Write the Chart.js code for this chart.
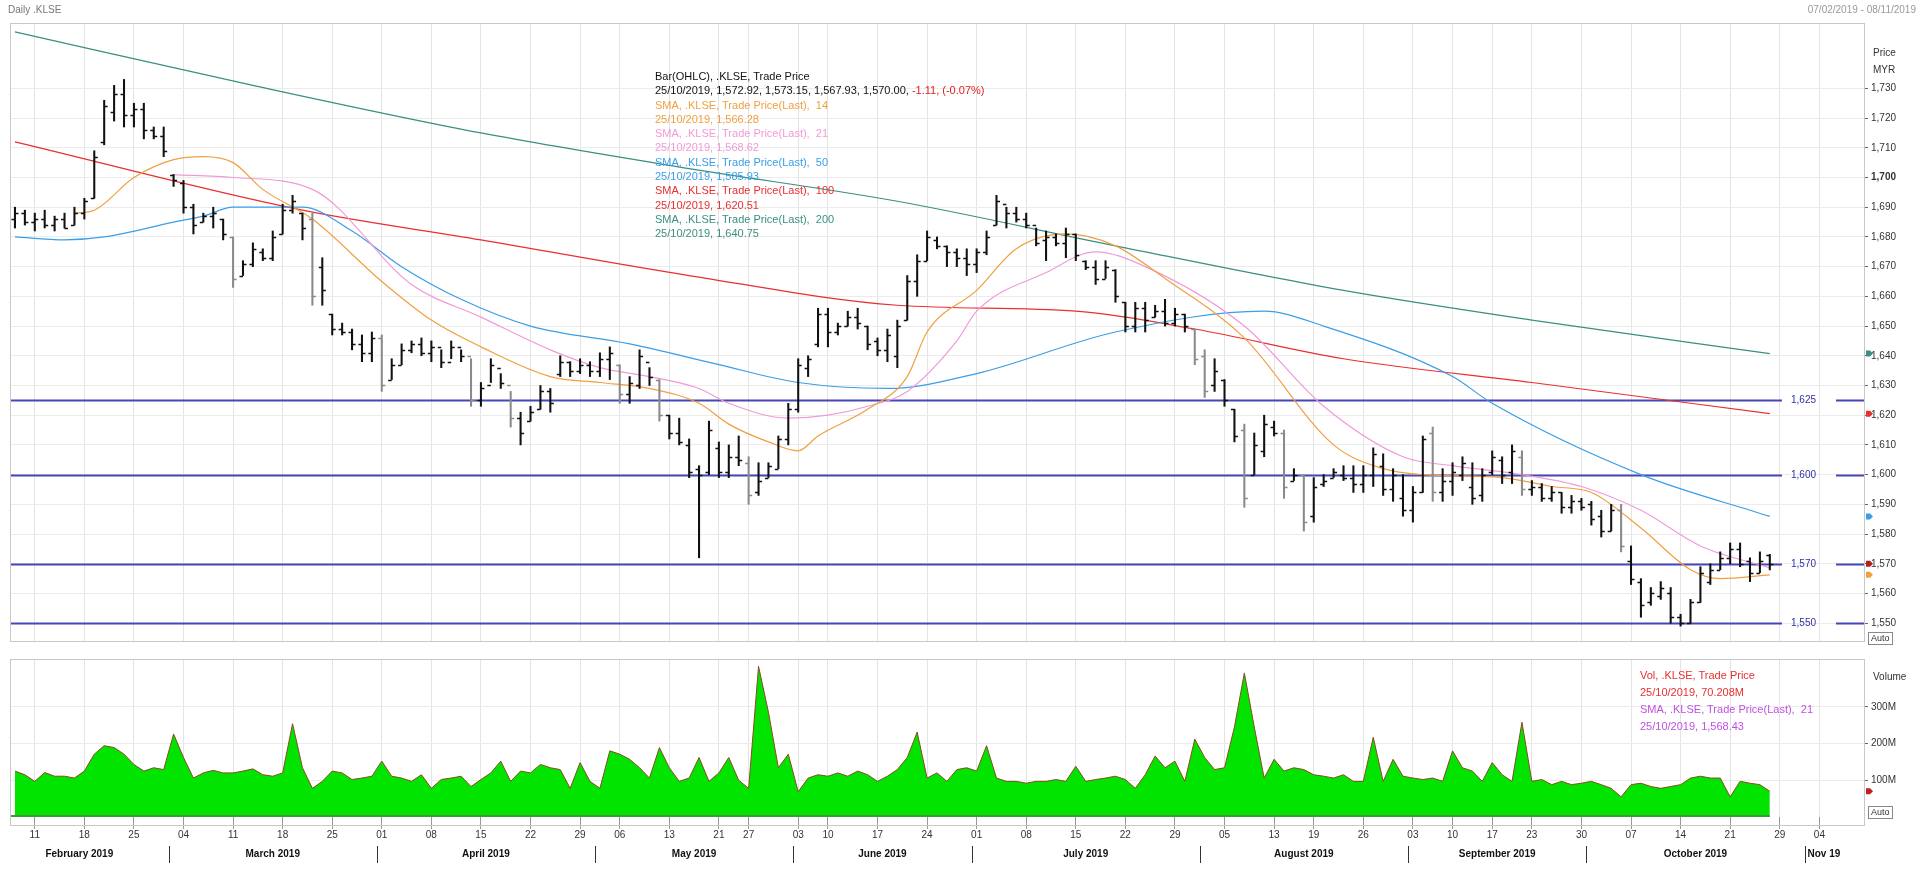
<!DOCTYPE html>
<html><head><meta charset="utf-8">
<script src="https://cdn.jsdelivr.net/npm/chart.js@4"></script>
<style>
body{margin:0;background:#fff;width:1920px;height:883px;overflow:hidden;position:relative;font-family:"Liberation Sans",Arial,sans-serif}
canvas{position:absolute;left:0;z-index:1}
.t{position:absolute;font-size:11px;line-height:14.3px;white-space:nowrap;z-index:2}
</style></head><body>
<canvas id="cp" width="1920" height="650" style="top:0"></canvas>
<canvas id="cv" width="1920" height="233" style="top:650px"></canvas>
<div class="t" style="left:8px;top:3px;color:#777;font-size:10px">Daily .KLSE</div>
<div class="t" style="right:4px;top:3px;color:#999;font-size:10px">07/02/2019 - 08/11/2019</div>
<div class="t" style="left:1873px;top:44px;color:#333;font-size:10px;line-height:17px">Price<br>MYR</div>
<div class="t" style="left:1873px;top:670px;color:#333;font-size:10px">Volume</div>
<div class="t" style="left:1868px;top:632px;color:#333;font-size:9px;border:1px solid #888;padding:0 2px;line-height:11px;background:#fff">Auto</div>
<div class="t" style="left:1868px;top:806px;color:#333;font-size:9px;border:1px solid #888;padding:0 2px;line-height:11px;background:#fff">Auto</div>
<div class="t" style="left:655px;top:69px">
<div style="color:#111">Bar(OHLC), .KLSE, Trade Price</div>
<div style="color:#111">25/10/2019, 1,572.92, 1,573.15, 1,567.93, 1,570.00, <span style="color:#e02020">-1.11, (-0.07%)</span></div>
<div style="color:#f0a040">SMA, .KLSE, Trade Price(Last),&nbsp; 14</div>
<div style="color:#f0a040">25/10/2019, 1,566.28</div>
<div style="color:#f09ad8">SMA, .KLSE, Trade Price(Last),&nbsp; 21</div>
<div style="color:#f09ad8">25/10/2019, 1,568.62</div>
<div style="color:#3a9ee8">SMA, .KLSE, Trade Price(Last),&nbsp; 50</div>
<div style="color:#3a9ee8">25/10/2019, 1,585.93</div>
<div style="color:#e83030">SMA, .KLSE, Trade Price(Last),&nbsp; 100</div>
<div style="color:#e83030">25/10/2019, 1,620.51</div>
<div style="color:#3a8f80">SMA, .KLSE, Trade Price(Last),&nbsp; 200</div>
<div style="color:#3a8f80">25/10/2019, 1,640.75</div>
</div>
<div class="t" style="left:1640px;top:667px;line-height:17px">
<div style="color:#e83030">Vol, .KLSE, Trade Price</div>
<div style="color:#e83030">25/10/2019, 70.208M</div>
<div style="color:#c050e0">SMA, .KLSE, Trade Price(Last),&nbsp; 21</div>
<div style="color:#c050e0">25/10/2019, 1,568.43</div>
</div>
<script>
const holidays=['2019-05-01','2019-05-20','2019-05-22','2019-06-05','2019-06-06','2019-08-12','2019-09-02','2019-09-09','2019-09-16','2019-10-28'];
const firstDay='2019-02-07', lastDay='2019-11-08';
const labels=[];
for(let d=new Date(firstDay+'T00:00:00Z');d<=new Date(lastDay+'T00:00:00Z');d.setUTCDate(d.getUTCDate()+1)){
  const wd=d.getUTCDay(); const s=d.toISOString().slice(0,10);
  if(wd>0&&wd<6&&!holidays.includes(s)) labels.push(s);
}
const opens=[1686,1688, 1685,1686,1684,1686,1684, 1688,1693,1712,1722,1728, 1721,1723,1716,1714,1701, 1698,1690,1685,1687,1686,
1680,1667,1671,1675,1673, 1681,1689,1688,1686,1670, 1654,1649,1648,1644,1641, 1646,1632,1637,1642,1644, 1641,1643,1638,1643,1640,
1625,1630,1636,1630,1619, 1618,1622,1628,1634,1638, 1635,1637,1635,1639, 1637,1627,1630,1638,1632, 1620,1614,1610,1602,1601,
1609,1601,1606, 1604,1594,1599,1602,1612, 1622,1636,1644, 1654,1648,1650,1653,1650, 1645,1642,1640,1652,1665,
1672,1679,1677,1675,1673, 1671,1675,1684,1691,1688, 1686,1684,1679,1680,1678, 1681,1672,1670,1666,1669,
1658,1650,1656,1653,1655, 1651,1654,1649,1640,1630, 1632,1622,1615,1600,1608, 1616,1614,1598,1600,
1586,1597,1599,1600,1599, 1597,1600,1603,1595,1592, 1588,1594,1614,1594, 1598,1600,1596,1593, 1601,1605,1601,1606,
1595,1596,1592,1594,1589, 1591,1590,1586,1581,1588, 1571,1564,1557,1559,1560, 1552,1550,1557,1564,1568, 1572,1575,1571,1567,1572.92];
const highs=[1690,1689, 1688,1689,1687,1688,1690, 1693,1709,1726,1731,1733, 1725,1725,1717,1717,1701, 1699,1691,1688,1690,1686,
1680,1672,1678,1676,1682, 1691,1694,1688,1688,1673, 1654,1651,1649,1647,1648, 1647,1639,1644,1645,1646, 1645,1642,1645,1642,1639,
1631,1639,1634,1628,1621, 1623,1630,1629,1640,1638, 1639,1638,1641,1643, 1637,1633,1642,1636,1632, 1620,1619,1612,1603,1618,
1611,1610,1613, 1606,1604,1604,1613,1624, 1639,1640,1656, 1656,1651,1655,1656,1650, 1646,1649,1652,1667,1674,
1682,1680,1677,1676,1676, 1676,1682,1694,1690,1690, 1688,1683,1682,1681,1683, 1681,1672,1672,1672,1669,
1658,1658,1658,1657,1659, 1656,1654,1649,1642,1639, 1632,1622,1617,1614,1620, 1618,1615,1602,1600,
1599,1600,1602,1603,1603, 1603,1609,1607,1602,1600, 1596,1613,1616,1602, 1604,1606,1604,1602, 1608,1606,1610,1608,
1598,1597,1596,1594,1593, 1592,1591,1588,1590,1590, 1576,1565,1562,1564,1562, 1553,1558,1569,1570,1574, 1577,1577,1572,1574,1573.15];
const lows=[1683,1684, 1682,1683,1682,1683,1684, 1686,1693,1711,1719,1717, 1717,1713,1713,1707,1697, 1688,1681,1685,1683,1679,
1663,1667,1670,1672,1672, 1681,1688,1679,1657,1657, 1647,1647,1642,1638,1638, 1628,1632,1637,1641,1640, 1638,1636,1639,1638,1623,
1623,1631,1629,1616,1610, 1618,1622,1621,1633,1633, 1634,1633,1633,1632, 1624,1624,1629,1630,1618, 1612,1610,1599,1572,1600,
1599,1599,1603, 1590,1593,1599,1602,1610, 1621,1633,1643, 1643,1647,1650,1649,1642, 1640,1638,1636,1652,1660,
1672,1676,1670,1670,1667, 1668,1674,1684,1683,1685, 1683,1677,1672,1677,1673, 1672,1669,1664,1666,1658,
1648,1648,1648,1653,1650, 1650,1648,1637,1626,1628, 1623,1611,1589,1600,1606, 1613,1592,1598,1581,
1584,1596,1599,1598,1594, 1594,1596,1593,1591,1586, 1584,1594,1591,1591, 1593,1598,1590,1591, 1600,1597,1597,1593,
1593,1591,1591,1587,1587, 1588,1583,1579,1581,1574, 1563,1552,1556,1558,1550, 1549,1550,1557,1563,1568, 1570,1569,1564,1567,1567.93];
const closes=[1688,1685, 1686,1684,1686,1683,1688, 1692,1707,1724,1728,1721, 1723,1716,1714,1709,1699, 1690,1684,1687,1688,1681,
1666,1671,1676,1673,1680, 1689,1692,1683,1660,1662, 1649,1648,1644,1641,1646, 1630,1637,1642,1644,1641, 1643,1638,1643,1640,1625,
1629,1637,1631,1619,1614, 1621,1628,1624,1638,1635, 1637,1635,1639,1641, 1627,1631,1640,1633,1620, 1614,1611,1601,1600,1615,
1601,1606,1605, 1593,1598,1603,1612,1622, 1637,1639,1654, 1648,1650,1653,1651,1644, 1642,1647,1650,1665,1672,
1680,1677,1675,1673,1671, 1675,1680,1692,1688,1686, 1684,1678,1680,1678,1681, 1674,1670,1666,1670,1660,
1650,1656,1652,1655,1651, 1654,1650,1639,1628,1635, 1625,1613,1592,1610,1617, 1614,1596,1600,1584,
1596,1598,1601,1599,1597, 1600,1607,1595,1600,1588, 1594,1612,1594,1598, 1601,1604,1592,1600, 1606,1600,1608,1595,
1596,1592,1594,1589,1591, 1589,1585,1581,1588,1576, 1565,1556,1560,1562,1552, 1550,1557,1567,1568,1572, 1575,1570,1567,1571,1570];
const volumes=[125,115, 97,121,111,111,106, 125,171,194,189,171, 143,125,134,129,226, 162,106,120,127,120, 120,125,131,115,111,
120,254,134,78,97, 125,120,102,106,111, 152,111,106,97,115, 78,102,106,111,83, 102,120,152,97,125, 120,143,134,129,78,
148,97,78,180, 171,157,134,106,189, 134,97,106,162,97, 120,162,100, 78,410,285,134,171, 69,106,115, 111,120,111,125,115,
97,111,129,162,231, 106,120,97,129,134, 125,194,106,97,97, 92,97,97,102,97, 138,97,102,106,111, 102,78,115,166,134,
152,97,212,162,129, 134,245,392,245,106, 157,125,134,129, 115,111,106,115,97, 97,217,97,157,111, 106,102,106,97,
180,134,125,97, 148,115,97,258, 97,102,88,97,88, 92,97,88,78,55, 88,92,83,78,83, 88,106,111,106,106, 55,97,92,88,70.2];
const sma14=[['02-15',1688],['02-19',1689],['02-25',1700],['03-01',1706],['03-06',1707],['03-11',1705],['03-14',1696],['03-21',1686],['04-01',1665],['04-08',1652],['04-15',1643],['04-24',1633],['05-02',1631],['05-09',1629],['05-16',1624],['05-23',1617],['05-29',1611],['06-03',1608],['06-07',1613],['06-14',1622],['06-20',1633],['06-24',1648],['07-01',1662],['07-05',1676],['07-12',1681],['07-19',1677],['07-26',1666],['08-07',1646],['08-21',1610],['08-28',1602],['09-04',1600],['09-18',1599],['09-25',1596],['10-01',1594],['10-08',1582],['10-15',1568],['10-18',1565],['10-25',1566.28]];
const sma21=[['03-01',1701],['03-11',1700],['03-21',1696],['04-04',1664],['04-15',1653],['04-24',1642],['05-02',1636],['05-09',1633],['05-16',1629],['05-23',1624],['05-31',1619],['06-10',1620],['06-14',1623],['06-20',1628],['06-27',1645],['07-01',1655],['07-10',1668],['07-17',1675],['07-24',1670],['08-07',1650],['08-20',1623],['08-30',1606],['09-10',1603],['09-20',1600],['09-30',1596],['10-08',1588],['10-16',1576],['10-25',1568.62]];
const sma50=[['02-07',1680],['02-14',1679],['02-20',1680],['03-01',1685],['03-06',1687],['03-11',1690],['03-20',1690],['03-27',1682],['04-03',1670],['04-11',1659],['04-22',1650],['05-07',1644],['05-21',1637],['06-03',1631],['06-18',1629],['07-01',1634],['07-19',1648],['08-09',1655],['08-20',1650],['09-10',1633],['09-17',1624],['10-08',1600],['10-25',1585.93]];
const sma100=[['02-07',1712],['03-20',1689],['04-15',1679],['05-15',1667],['06-19',1657],['07-15',1655],['07-31',1649],['08-22',1639],['09-23',1631],['10-25',1620.51]];
const sma200=[['02-07',1749],['03-13',1731],['04-15',1715],['05-15',1703],['06-19',1692],['07-19',1677],['08-22',1662],['09-23',1652],['10-25',1640.75]];
const levels=[1625,1600,1570,1550];
const priceTicks=[1550,1560,1570,1580,1590,1600,1610,1620,1630,1640,1650,1660,1670,1680,1690,1700,1710,1720,1730];
const volTicks=[100,200,300];
const months=['January','February','March','April','May','June','July','August','September','October','November','December'];

const weekStart=labels.map((s,i)=>{ if(i===0) return false;
  const a=new Date(labels[i-1]+'T00:00:00Z'), b=new Date(s+'T00:00:00Z');
  return b.getUTCDay()<=a.getUTCDay() || (b-a)>5*864e5; });
const L=(a)=>a.map(p=>({x:'2019-'+p[0],y:p[1]}));
const RW=56;
const gridX={offset:false,drawTicks:false,color:c=>weekStart[c.index]?'#e4e4e4':'rgba(0,0,0,0)',lineWidth:1};
const fmt=v=>v.toLocaleString('en-US');
const colors={o:'#f0a040',p:'#f09ad8',b:'#3a9ee8',r:'#e83030',t:'#3a8f80'};
function smaDs(d,c){return {type:'line',data:L(d),borderColor:c,borderWidth:1.2,pointRadius:0,cubicInterpolationMode:'monotone',order:2};}
const barColors=opens.map((o,i)=>(o-closes[i]>=10?'#8a8a8a':'#111'));

const ohlcPlugin={id:'ohlc',afterDatasetsDraw(ch){
  const meta=ch.getDatasetMeta(0), y=ch.scales.y, c=ch.ctx;
  c.save();c.lineWidth=1.3;
  meta.data.forEach((el,i)=>{c.strokeStyle=barColors[i];
    const yo=Math.round(y.getPixelForValue(opens[i]))+.5, yc=Math.round(y.getPixelForValue(closes[i]))+.5;
    c.beginPath();c.moveTo(el.x-3.5,yo);c.lineTo(el.x,yo);c.moveTo(el.x,yc);c.lineTo(el.x+3.5,yc);c.stroke();});
  c.restore();}};
const levelPlugin={id:'lv',beforeDatasetsDraw(ch){
  const y=ch.scales.y,a=ch.chartArea,c=ch.ctx;c.save();
  levels.forEach(v=>{const py=Math.round(y.getPixelForValue(v))+.5;
    c.strokeStyle='#4646b4';c.lineWidth=2;c.beginPath();c.moveTo(a.left,py);c.lineTo(1782,py);c.moveTo(1836,py);c.lineTo(a.right,py);c.stroke();
    c.fillStyle='#3030a0';c.font='10px "Liberation Sans"';c.textBaseline='middle';c.fillText(fmt(v),1791,py);});
  c.restore();},
  afterDraw(ch){const y=ch.scales.y,a=ch.chartArea,c=ch.ctx;c.save();
    c.strokeStyle='#c8c8c8';c.lineWidth=1;c.strokeRect(a.left+.5,a.top+.5,a.width,a.height);
    const mk=[[1640.75,colors.t],[1620.51,colors.r],[1585.93,colors.b],[1570,'#b02020'],[1566.28,colors.o]];
    mk.forEach(m=>{const py=y.getPixelForValue(m[0]);c.fillStyle=m[1];
      c.beginPath();c.moveTo(a.right+2,py-3);c.lineTo(a.right+6,py-3);c.lineTo(a.right+9,py);c.lineTo(a.right+6,py+3);c.lineTo(a.right+2,py+3);c.closePath();c.fill();});
    c.restore();}};

new Chart(document.getElementById('cp'),{
  data:{labels,datasets:[
    {type:'bar',data:lows.map((l,i)=>[l,highs[i]]),backgroundColor:barColors,barThickness:1.4,order:1},
    smaDs(sma14,colors.o),smaDs(sma21,colors.p),smaDs(sma50,colors.b),smaDs(sma100,colors.r),smaDs(sma200,colors.t)]},
  options:{responsive:false,devicePixelRatio:1,animation:false,layout:{padding:{left:10,top:23,bottom:2,right:0}},
    plugins:{legend:{display:false},tooltip:{enabled:false}},
    scales:{
      x:{offset:true,grid:gridX,ticks:{display:false,autoSkip:false},border:{display:false},afterFit:s=>{s.height=0;}},
      y:{position:'right',min:1544,max:1752,afterFit:s=>{s.width=RW;},
        afterBuildTicks:s=>{s.ticks=priceTicks.map(v=>({value:v}));},
        grid:{color:'#ececec',tickLength:4,tickColor:'#666'},border:{color:'#999'},
        ticks:{color:'#333',padding:3,font:c=>({size:10,family:'Liberation Sans',weight:c.tick&&c.tick.value===1700?'bold':'normal'}),callback:v=>fmt(v)}}}},
  plugins:[levelPlugin,ohlcPlugin]});

const volPlugin={id:'vp',afterDraw(ch){
  const x=ch.scales.x,a=ch.chartArea,c=ch.ctx,yv=ch.scales.y;c.save();
  c.strokeStyle='#3a9a3a';c.lineWidth=2;c.beginPath();c.moveTo(a.left,a.bottom-1);c.lineTo(x.getPixelForValue(volumes.length-1),a.bottom-1);c.stroke();
  c.lineWidth=1;c.strokeStyle='#c8c8c8';c.strokeRect(a.left+.5,a.top+.5,a.width,a.height+8);
  const py=yv.getPixelForValue(70.2);c.fillStyle='#c02020';c.beginPath();c.moveTo(a.right+2,py-3);c.lineTo(a.right+6,py-3);c.lineTo(a.right+9,py);c.lineTo(a.right+6,py+3);c.lineTo(a.right+2,py+3);c.closePath();c.fill();
  const groups=[];labels.forEach((s,i)=>{const m=+s.slice(5,7)-1;if(!groups.length||groups[groups.length-1].m!==m)groups.push({m,a:i,b:i});else groups[groups.length-1].b=i;});
  c.font='bold 10px "Liberation Sans"';c.fillStyle='#111';c.textBaseline='middle';c.strokeStyle='#333';c.lineWidth=1;
  const step=x.getPixelForValue(1)-x.getPixelForValue(0);
  groups.forEach((g,k)=>{
    const xa=x.getPixelForValue(g.a),xb=x.getPixelForValue(g.b);
    if(k>0){const sx=Math.round(xa-step/2)+.5;c.beginPath();c.moveTo(sx,196);c.lineTo(sx,213);c.stroke();
      if(g.m===10){c.textAlign='left';c.fillText('Nov 19',sx+2,204);return;}}
    c.textAlign='center';c.fillText(months[g.m]+' 2019',k===0?(xa+xb)/2-10:(xa+xb)/2,204);});
  c.restore();}};

new Chart(document.getElementById('cv'),{
  type:'line',
  data:{labels,datasets:[{data:volumes,fill:'origin',backgroundColor:'#00e400',borderColor:'#8a4a20',borderWidth:1,pointRadius:0,tension:0}]},
  options:{responsive:false,devicePixelRatio:1,animation:false,layout:{padding:{left:10,top:1,bottom:0,right:0}},
    plugins:{legend:{display:false},tooltip:{enabled:false}},
    scales:{
      x:{offset:true,grid:{...gridX,drawTicks:true,tickLength:12,tickColor:c=>weekStart[c.index]?'#999':'rgba(0,0,0,0)'},border:{display:false},
        afterFit:s=>{s.height=66;},
        ticks:{autoSkip:false,maxRotation:0,padding:0,color:'#333',font:{size:10,family:'Liberation Sans'},
          callback:(v,i)=>weekStart[i]?labels[i].slice(8,10):''}},
      y:{position:'right',min:0,max:430,afterFit:s=>{s.width=RW;},
        afterBuildTicks:s=>{s.ticks=volTicks.map(v=>({value:v}));},
        grid:{color:'#ececec',tickLength:4,tickColor:'#666'},border:{color:'#999'},
        ticks:{color:'#333',padding:3,font:{size:10,family:'Liberation Sans'},callback:v=>v+'M'}}}},
  plugins:[volPlugin]});
</script></body></html>
